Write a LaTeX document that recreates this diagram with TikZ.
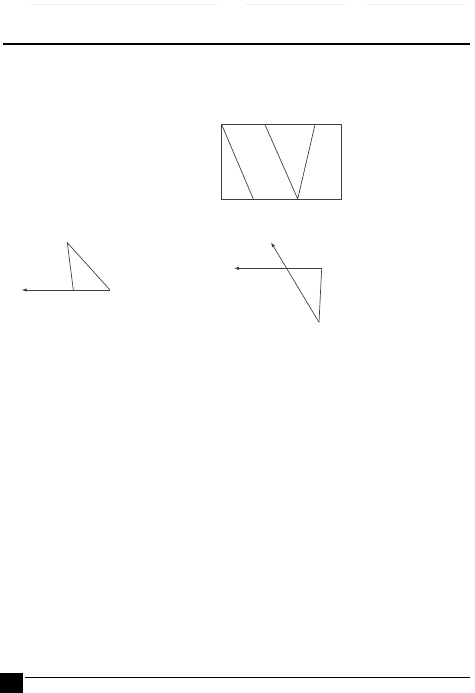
\documentclass[tikz,border=0pt]{standalone}
\usetikzlibrary{arrows.meta}
\begin{document}
\begin{tikzpicture}[x=1pt,y=-1pt,
  fig/.style={line width=0.7pt,draw=black!75},
  arr/.style={fig,-{Latex[length=5pt,width=3.5pt]}},
  rule/.style={line width=2pt,draw=black}]
\useasboundingbox (0,0) rectangle (474,693);
% faint scan lines at top
\draw[black!6,line width=0.6pt] (30,4) -- (218,4) (245,4) -- (345,4) (367,4) -- (466,4);
% top rule
\coordinate (tl) at (3,44.5);
\coordinate (tr) at (470,44.5);
\draw[rule] (tl) -- (tr);
% rectangle with zigzag
\coordinate (r1) at (221.7,124.7);
\coordinate (r2) at (341.7,199);
\coordinate (a1) at (221.7,124.7);
\coordinate (a2) at (253.3,199);
\coordinate (b1) at (265,124.7);
\coordinate (b2) at (297.7,199);
\coordinate (b3) at (315,124.7);
\draw[fig] (r1) rectangle (r2);
\draw[fig] (a1) -- (a2);
\draw[fig] (b1) -- (b2) -- (b3);
% left triangle
\coordinate (p) at (67.3,242.7);
\coordinate (q) at (110,290);
\coordinate (m) at (73.3,290);
\coordinate (e) at (21.7,290);
\draw[fig] (m) -- (p) -- (q);
\draw[arr] (q) -- (e);
% right figure
\coordinate (c) at (321.7,268.3);
\coordinate (f) at (234,268.3);
\coordinate (d) at (319,322.3);
\coordinate (g) at (271,242.3);
\draw[arr] (c) -- (f);
\draw[fig] (c) -- (d);
\draw[arr] (d) -- (g);
% bottom
\coordinate (bl) at (25,677.3);
\coordinate (br) at (470,677.3);
\draw[line width=1.5pt] (bl) -- (br);
\fill[black] (0,673) rectangle (22.5,693);
\end{tikzpicture}
\end{document}
